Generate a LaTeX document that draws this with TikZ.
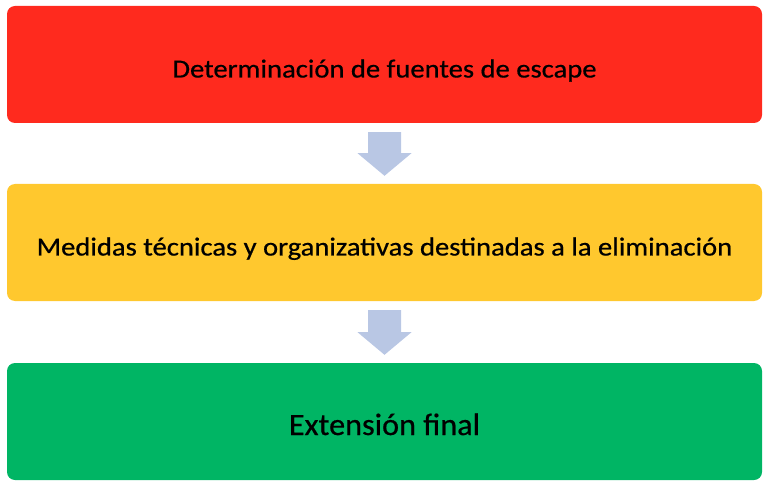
\documentclass[tikz,border=0pt]{standalone}
\usepackage{fontspec}
\setmainfont{Carlito}
\newfontfamily\cajafont{Carlito}[FakeStretch=1.1, FakeBold=0.6]
\newfontfamily\finalfont{Carlito}[FakeStretch=1.04, FakeBold=0.6]
\definecolor{rojo}{RGB}{255, 42, 30}
\definecolor{amarillo}{RGB}{255, 200, 46}
\definecolor{verde}{RGB}{0, 181, 100}
\definecolor{flecha}{RGB}{185, 199, 228}
\usetikzlibrary{calc}

\begin{document}
\begin{tikzpicture}[x=1pt,y=-1pt,
    caja/.style={rounded corners=8pt, minimum width=755pt, minimum height=117pt, inner sep=0pt, text=black, text depth=0pt, text height=26pt}]
    \useasboundingbox (0,0) rectangle (768,486);

    \node[caja, fill=rojo, font=\cajafont\fontsize{26}{30}\selectfont] (paso1) at (384.5,64.5) {Determinación de fuentes de escape};
    \node[caja, fill=amarillo, font=\cajafont\fontsize{26}{30}\selectfont] (paso2) at (384.5,242.5) {Medidas técnicas y organizativas destinadas a la eliminación};
    \node[caja, fill=verde, text height=27pt, font=\finalfont\fontsize{31}{36}\selectfont] (paso3) at (384.5,421.5) {Extensión final};

    \fill[flecha] ($(paso1.south)+(-16.5,9)$) -- ++(33,0) -- ++(0,21) -- ++(10.5,0) -- ($(paso2.north)+(0,-8)$) -- ($(paso1.south)+(-27,30)$) -- ++(10.5,0) -- cycle;
    \fill[flecha] ($(paso2.south)+(-16.5,9)$) -- ++(33,0) -- ++(0,22) -- ++(10.5,0) -- ($(paso3.north)+(0,-8)$) -- ($(paso2.south)+(-27,31)$) -- ++(10.5,0) -- cycle;
\end{tikzpicture}
\end{document}
